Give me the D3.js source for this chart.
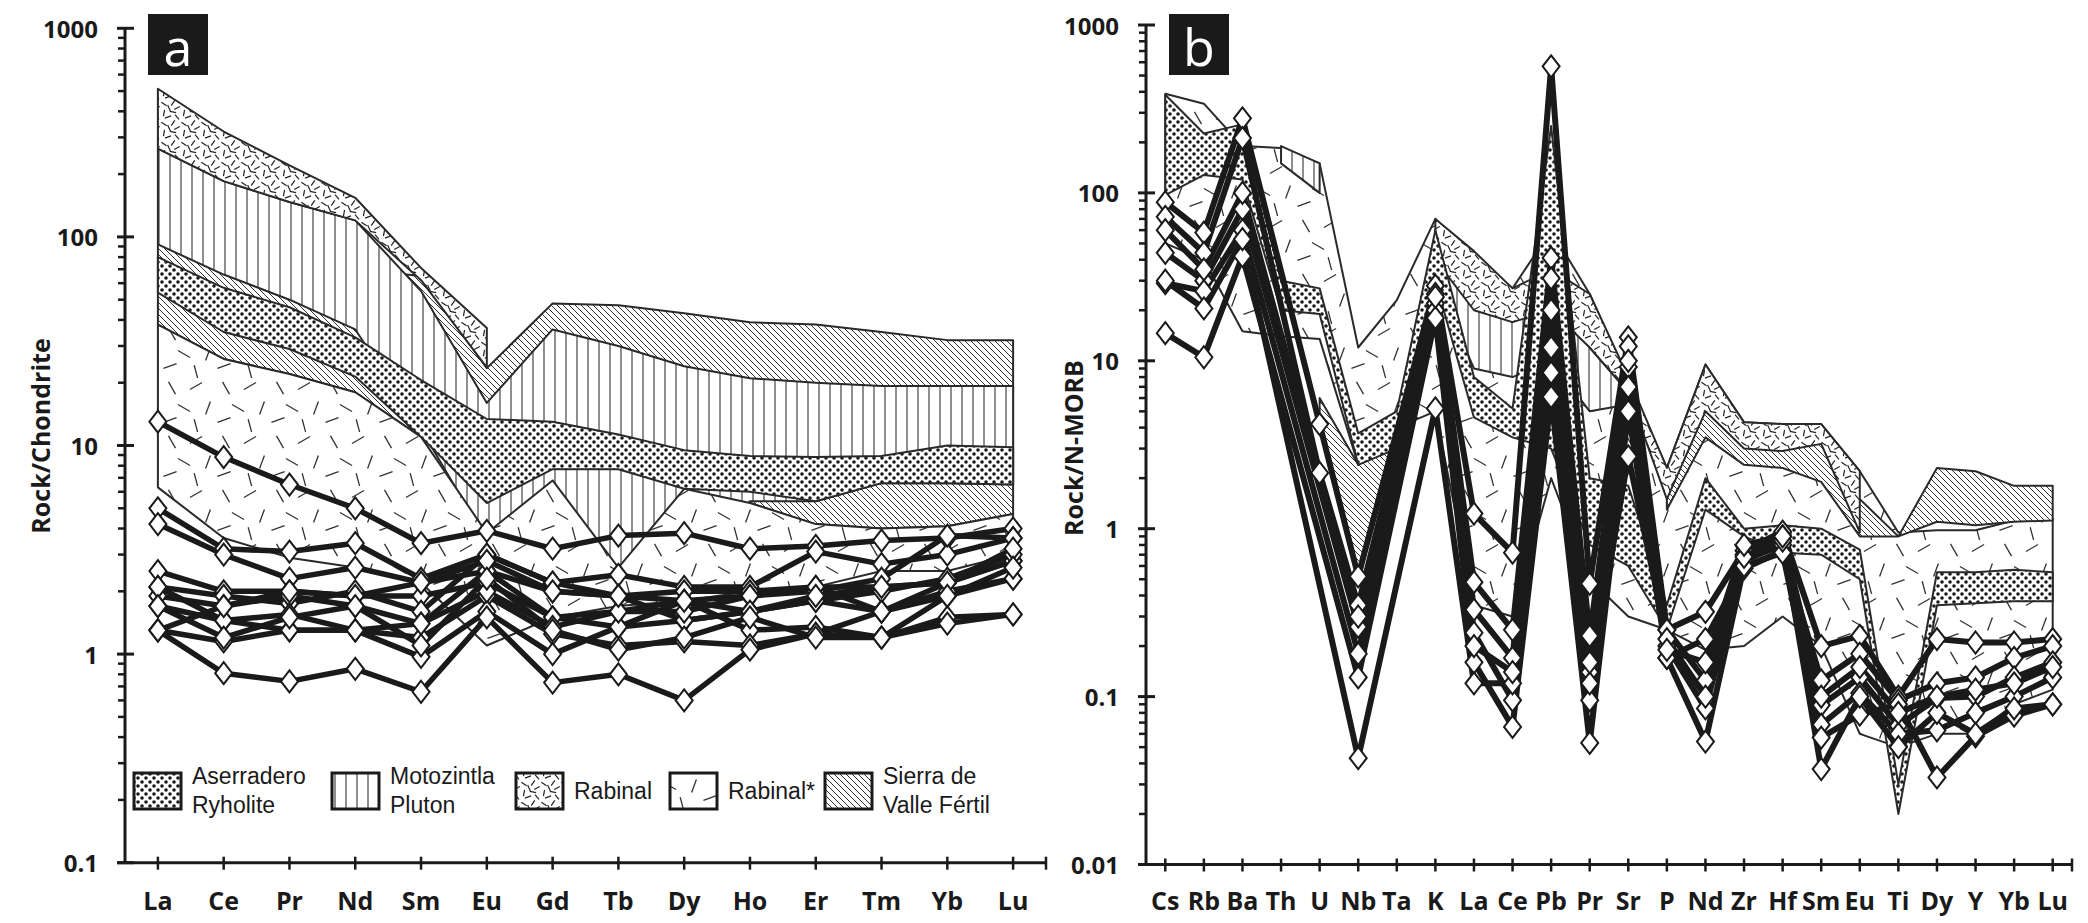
<!DOCTYPE html>
<html>
<head>
<meta charset="utf-8">
<script src="https://cdn.jsdelivr.net/npm/d3@7/dist/d3.min.js"></script>
<style>
  body { margin: 0; background: #fff; }
  svg text { font-family: "Open Sans", "DejaVu Sans", sans-serif; fill: #1a1a1a; }
  .tick-lbl { font-weight: 700; font-size: 24px; }
  .el-lbl { font-weight: 700; font-size: 25px; }
  .ax-title { font-weight: 700; font-size: 25px; }
  .legend-lbl { font-family: "Liberation Sans", Arial, sans-serif !important; font-size: 23px; }
</style>
</head>
<body>
<svg id="chart" width="2088" height="923"></svg>
<script>
// ---------- panel a : REE / chondrite ----------
const reeElements = ["La","Ce","Pr","Nd","Sm","Eu","Gd","Tb","Dy","Ho","Er","Tm","Yb","Lu"];

// sample patterns (rock / chondrite)
const reeSamples = [
  [13, 8.8, 6.5, 5.0, 3.4, 3.9, 3.2, 3.7, 3.8, 3.2, 3.3, 3.5, 3.6, 4.0],
  [5.0, 3.2, 3.1, 3.4, 2.3, 3.0, 2.2, 2.4, 2.1, 2.1, 3.1, 2.7, 3.0, 3.6],
  [4.2, 3.0, 2.3, 2.6, 2.2, 2.5, 2.0, 1.9, 2.0, 2.0, 2.1, 2.1, 2.2, 2.8],
  [2.5, 2.0, 2.0, 1.9, 1.9, 2.2, 1.5, 1.6, 1.8, 1.9, 2.0, 2.3, 3.7, 3.6],
  [2.1, 1.9, 1.75, 2.0, 1.6, 3.0, 2.2, 1.9, 1.45, 1.6, 1.8, 1.6, 1.9, 2.3],
  [1.9, 1.7, 1.9, 1.7, 1.4, 2.5, 1.5, 1.35, 1.8, 1.3, 1.35, 1.2, 1.5, 1.55],
  [1.7, 1.45, 1.55, 1.3, 1.2, 1.9, 1.25, 1.1, 1.15, 1.1, 1.25, 1.6, 2.2, 2.8],
  [1.3, 1.15, 1.3, 1.3, 0.97, 1.6, 1.0, 1.35, 1.45, 1.6, 1.8, 2.0, 2.3, 3.0],
  [1.3, 0.81, 0.74, 0.85, 0.66, 1.5, 0.73, 0.8, 0.6, 1.05, 1.25, 1.2, 1.4, 1.55],
  [2.1, 1.45, 1.3, 1.3, 1.4, 2.0, 1.35, 1.6, 1.6, 1.9, 2.1, 1.6, 2.0, 2.3],
  [1.3, 1.7, 2.0, 1.9, 2.2, 2.8, 2.0, 1.9, 1.8, 1.6, 1.9, 2.1, 2.2, 3.2],
  [1.7, 1.2, 1.5, 1.7, 1.1, 2.3, 1.3, 1.05, 1.2, 1.5, 1.2, 1.2, 1.9, 2.6]
];

// comparison fields (upper / lower envelopes, null = no data)
const reeSierraUpper = [92, 80, 75, 70, 65, 23.5, 48, 47, 43, 39, 38, 35, 32, 32];
const reeSierraLower = [38, 26, 22, 18, 11, 15, 8, 7, 6.2, 5.3, 4.2, 4.0, 4.1, 4.7];
const reeMotozintlaUpper = [265, 185, 147, 120, 55, 16, 36, 30, 24, 21, 20, 19.3, 19.3, 19.3];
const reeMotozintlaLower = [92, 66, 50, 36, 12, 3.5, 2.5, 2.5, 3, 5.4, 5.4, 6.6, 6.6, 6.5];
const reeRabinalStarUpper = [38, 26, 22, 18, 11, 3.8, 6.8, 2.6, 6.2, 5.3, 4.2, 4.0, 4.1, 4.7];
const reeRabinalStarLower = [6.3, 3.6, 2.9, 2.6, 2.2, 1.1, 1.5, 1.7, 1.8, 2.0, 2.1, 2.5, 2.5, 3.0];
const reeAserraderoUpper = [80, 57, 46, 33, 20.6, 13.4, 13, 11.3, 9.5, 8.9, 8.8, 8.9, 10, 9.8];
const reeAserraderoLower = [54, 35, 29, 21.4, 11, 5.3, 7.7, 7.7, 6.2, 6.0, 5.4, 6.6, 6.6, 6.5];
const reeRabinalUpper = [513, 320, 220, 154, 71, 36.6, null, null, null, null, null, null, null, null];
const reeRabinalLower = [265, 185, 147, 120, 62, 23.6, null, null, null, null, null, null, null, null];

// ---------- panel b : spider / N-MORB ----------
const spiderElements = ["Cs","Rb","Ba","Th","U","Nb","Ta","K","La","Ce","Pb","Pr","Sr","P","Nd","Zr","Hf","Sm","Eu","Ti","Dy","Y","Yb","Lu"];

const spiderSamples = [
  [88, 58, 278, null, 4.2, 0.52, null, 28, 1.23, 0.72, 567, 0.47, 13.8, 0.25, 0.32, 0.74, 0.96, 0.2, 0.23, 0.1, 0.22, 0.21, 0.21, 0.22],
  [72, 44, 212, null, 2.15, 0.35, null, 25, 0.48, 0.25, 41, 0.23, 12.2, 0.17, 0.22, 0.58, 0.74, 0.125, 0.18, 0.095, 0.12, 0.13, 0.17, 0.2],
  [44, 30, 80, null, null, 0.26, null, 22, 0.33, 0.17, 31, 0.14, 9.2, 0.25, 0.125, 0.7, 0.9, 0.089, 0.13, 0.067, 0.098, 0.1, 0.13, 0.16],
  [29, 26, 60, null, null, 0.18, null, 20, 0.24, 0.095, 8.5, 0.095, 7, 0.2, 0.085, 0.65, 0.8, 0.068, 0.105, 0.06, 0.063, 0.08, 0.1, 0.13],
  [14.6, 10.5, 42, null, null, 0.13, null, 18, 0.16, 0.066, 6.1, 0.053, 5, 0.17, 0.054, 0.6, 0.72, 0.057, 0.078, 0.09, 0.033, 0.058, 0.077, 0.09],
  [30, 20.5, 53, null, null, 0.043, null, 5.2, 0.12, 0.12, 12, 0.12, 2.7, 0.22, 0.1, 0.68, 0.85, 0.037, 0.1, 0.05, 0.08, 0.06, 0.085, 0.09],
  [60, 35, 100, null, null, 0.3, null, 24, 0.2, 0.14, 20, 0.16, 10, 0.19, 0.16, 0.8, 0.9, 0.1, 0.15, 0.08, 0.1, 0.11, 0.12, 0.15]
];

const spiderRabinalStarUpper = [390, 340, 190, 185, 150, 12, 23, 70, 40, 27, 60, 25, 7.5, 2.3, 9.5, 4.3, 4.2, 4.2, 2.2, 0.95, 0.98, 0.98, 1.12, 1.15];
const spiderRabinalStarLower = [50, 40, 15, 14, 13.5, 2.4, 4, 5, 0.35, 0.3, 2, 0.5, 0.3, 0.25, 0.19, 0.2, 0.3, 0.2, 0.06, 0.05, 0.06, 0.06, 0.09, 0.11];
const spiderSierraUpper = [null, null, null, null, 6, 2.4, 5, null, null, null, null, null, null, 1.8, 5.5, 3.2, 3.0, 3.5, 1.5, 0.9, 2.3, 2.2, 1.8, 1.8];
const spiderSierraLower = [null, null, null, null, 4, 0.5, 4, null, null, null, null, null, null, 1.3, 3.5, 2.4, 2.3, 1.9, 0.9, 0.9, 1.1, 1.05, 1.1, 1.12];
const spiderMotozintlaUpper = [null, null, null, 190, 150, null, null, 60, 21, 17, 30, 12, 6.5, null, null, null, null, null, null, null, null, null, null, null];
const spiderMotozintlaLower = [null, null, null, 150, 100, null, null, 30, 9, 8, 10, 5, 5.5, null, null, null, null, null, null, null, null, null, null, null];
const spiderRabinalUpper = [null, null, null, null, null, null, null, 70, 45, 27, 35, 25, 8, 2.3, 9.5, 4.3, 4.2, 4.2, 2.2, null, null, null, null, null];
const spiderRabinalLower = [null, null, null, null, null, null, null, 40, 20, 17, 20, 12, 6.5, 1.5, 5, 3, 2.9, 3.2, 0.95, null, null, null, null, null];
const spiderAserraderoUpper = [384, 226, 256, 30, 27, 3.7, 5, 60, 8, 5.2, 250, 2.0, 1.8, 0.35, 2.0, 1.0, 1.05, 1.0, 0.75, 0.03, 0.55, 0.55, 0.57, 0.55];
const spiderAserraderoLower = [97, 128, 120, 20, 19, 2.4, 3, 30, 4.6, 3.5, 3, 0.8, 0.6, 0.25, 1.3, 0.9, 0.72, 0.7, 0.5, 0.02, 0.35, 0.36, 0.37, 0.37];

const legendLabels = [["Aserradero", "Ryholite"], ["Motozintla", "Pluton"], ["Rabinal"], ["Rabinal*"], ["Sierra de", "Valle Fértil"]];
const legendPatterns = ["dots", "vert", "dense", "sparse", "diag"];

// ---------- drawing ----------
const svg = d3.select("#chart");
const defs = svg.append("defs");
const ink = "#1a1a1a";

function makePattern(id, w, h, draw) {
  const p = defs.append("pattern").attr("id", id)
    .attr("patternUnits", "userSpaceOnUse").attr("width", w).attr("height", h);
  p.append("rect").attr("width", w).attr("height", h).attr("fill", "#fff");
  draw(p);
}
makePattern("dots", 8, 8, p => {
  p.append("circle").attr("cx", 2).attr("cy", 2).attr("r", 1.8).attr("fill", ink);
  p.append("circle").attr("cx", 6).attr("cy", 6).attr("r", 1.8).attr("fill", ink);
});
makePattern("vert", 11, 10, p => {
  p.append("line").attr("x1", 5).attr("x2", 5).attr("y1", 0).attr("y2", 10)
    .attr("stroke", "#444").attr("stroke-width", 1.2);
});
makePattern("diag", 6, 6, p => {
  p.append("path").attr("d", "M-1,-1 L7,7 M-4,2 L2,8 M4,-2 L8,2")
    .attr("stroke", "#333").attr("stroke-width", 1);
});
// short dashes, many orientations (Rabinal)
const denseDashes = [[4,4,35],[13,3,125],[4,13,100],[13,12,10],[9,8,65],[17,8,150],[8,17,160],[17,17,50]];
makePattern("dense", 20, 20, p => {
  denseDashes.forEach(([x, y, a]) => {
    p.append("line").attr("x1", -3.2).attr("x2", 3.2).attr("y1", 0).attr("y2", 0)
      .attr("transform", `translate(${x},${y}) rotate(${a})`)
      .attr("stroke", "#222").attr("stroke-width", 1.2);
  });
});
// long sparse dashes (Rabinal*)
const sparseDashes = [[10,10,60],[34,8,150],[22,30,30],[46,30,110],[8,42,160],[34,48,75]];
makePattern("sparse", 54, 54, p => {
  sparseDashes.forEach(([x, y, a]) => {
    p.append("line").attr("x1", -7).attr("x2", 7).attr("y1", 0).attr("y2", 0)
      .attr("transform", `translate(${x},${y}) rotate(${a})`)
      .attr("stroke", "#333").attr("stroke-width", 1.3);
  });
});

function drawPanel(cfg) {
  const x = d3.scaleBand().domain(cfg.elements).range([cfg.x0, cfg.x1]).paddingInner(0).paddingOuter(0);
  const cx = e => x(e) + x.bandwidth() / 2;
  const y = d3.scaleLog().domain(cfg.domain).range([cfg.yBottom, cfg.yTop]);
  const g = svg.append("g");

  // fields
  cfg.fields.forEach(f => {
    const pts = cfg.elements.map((e, i) => ({ e, hi: f.upper[i], lo: f.lower[i] }));
    const area = d3.area()
      .defined(d => d.hi != null && d.lo != null)
      .x(d => cx(d.e)).y0(d => y(d.lo)).y1(d => y(d.hi));
    g.append("path").datum(pts).attr("d", area)
      .attr("fill", `url(#${f.pattern})`)
      .attr("stroke", "#2a2a2a").attr("stroke-width", 2).attr("stroke-linejoin", "round");
  });

  // sample lines
  const line = d3.line().x(d => cx(d.e)).y(d => y(d.v));
  const series = cfg.samples.map(s => cfg.elements.map((e, i) => ({ e, v: s[i] })).filter(d => d.v != null));
  g.selectAll(".smp").data(series).join("path")
    .attr("d", line).attr("fill", "none").attr("stroke", ink)
    .attr("stroke-width", cfg.lineWidth).attr("stroke-linejoin", "round");
  const diamond = "M0,-11 L8.5,0 L0,11 L-8.5,0 Z";
  series.forEach(s => {
    g.selectAll(null).data(s).join("path")
      .attr("d", diamond)
      .attr("transform", d => `translate(${cx(d.e)},${y(d.v)})`)
      .attr("fill", "#fff").attr("stroke", ink).attr("stroke-width", 2);
  });

  // y axis
  const ya = g.append("g");
  ya.append("line").attr("x1", cfg.x0).attr("x2", cfg.x0).attr("y1", y(cfg.domain[1])).attr("y2", y(cfg.domain[0]))
    .attr("stroke", ink).attr("stroke-width", 3);
  const lo = Math.log10(cfg.domain[0]), hi = Math.log10(cfg.domain[1]);
  for (let p = lo; p <= hi; p++) {
    const v = Math.pow(10, p);
    ya.append("line").attr("x1", cfg.x0 - 8).attr("x2", cfg.x0 + 9).attr("y1", y(v)).attr("y2", y(v))
      .attr("stroke", ink).attr("stroke-width", 3);
    ya.append("text").attr("class", "tick-lbl").attr("x", cfg.x0 - 27).attr("y", y(v))
      .attr("text-anchor", "end").attr("dominant-baseline", "central").text(cfg.tickLabels[p - lo]);
    if (p < hi) {
      for (let m = 2; m <= 9; m++) {
        ya.append("line").attr("x1", cfg.x0 - 7).attr("x2", cfg.x0).attr("y1", y(m * v)).attr("y2", y(m * v))
          .attr("stroke", ink).attr("stroke-width", 2.5);
      }
    }
  }
  ya.append("text").attr("class", "ax-title")
    .attr("transform", `translate(${cfg.titleX},${cfg.titleY}) rotate(-90)`)
    .attr("text-anchor", "middle").attr("dominant-baseline", "central").text(cfg.title);

  // x axis
  const xa = g.append("g");
  xa.append("line").attr("x1", cfg.x0 - 8).attr("x2", cfg.x1).attr("y1", cfg.yBottom).attr("y2", cfg.yBottom)
    .attr("stroke", ink).attr("stroke-width", 3);
  cfg.elements.forEach(e => {
    xa.append("line").attr("x1", cx(e)).attr("x2", cx(e)).attr("y1", cfg.yBottom - 6).attr("y2", cfg.yBottom + 7)
      .attr("stroke", ink).attr("stroke-width", 2.5);
    xa.append("text").attr("class", "el-lbl").attr("x", cx(e)).attr("y", 900)
      .attr("text-anchor", "middle").attr("dominant-baseline", "central").text(e);
  });
  xa.append("line").attr("x1", cfg.x1).attr("x2", cfg.x1).attr("y1", cfg.yBottom - 6).attr("y2", cfg.yBottom + 7)
    .attr("stroke", ink).attr("stroke-width", 2.5);

  // panel letter
  g.append("rect").attr("x", cfg.x0 + 23).attr("y", 14).attr("width", 60).attr("height", 61).attr("fill", ink);
  g.append("text").attr("x", cfg.x0 + 53).attr("y", 45).attr("text-anchor", "middle")
    .attr("dominant-baseline", "central").style("fill", "#fff").style("font-size", "52px").text(cfg.letter);
}

function fieldsFrom(list) { return list.map(([upper, lower, pattern]) => ({ upper, lower, pattern })); }

drawPanel({
  elements: reeElements, samples: reeSamples, domain: [0.1, 1000],
  tickLabels: ["0.1", "1", "10", "100", "1000"],
  x0: 125, x1: 1046, yTop: 28.3, yBottom: 862.7, lineWidth: 5.5,
  title: "Rock/Chondrite", titleX: 40, titleY: 436, letter: "a",
  fields: fieldsFrom([
    [reeSierraUpper, reeSierraLower, "diag"],
    [reeMotozintlaUpper, reeMotozintlaLower, "vert"],
    [reeRabinalStarUpper, reeRabinalStarLower, "sparse"],
    [reeAserraderoUpper, reeAserraderoLower, "dots"],
    [reeRabinalUpper, reeRabinalLower, "dense"]
  ])
});

drawPanel({
  elements: spiderElements, samples: spiderSamples, domain: [0.01, 1000],
  tickLabels: ["0.01", "0.1", "1", "10", "100", "1000"],
  x0: 1146, x1: 2072, yTop: 25, yBottom: 864.5, lineWidth: 6,
  title: "Rock/N-MORB", titleX: 1073, titleY: 448, letter: "b",
  fields: fieldsFrom([
    [spiderRabinalStarUpper, spiderRabinalStarLower, "sparse"],
    [spiderMotozintlaUpper, spiderMotozintlaLower, "vert"],
    [spiderSierraUpper, spiderSierraLower, "diag"],
    [spiderRabinalUpper, spiderRabinalLower, "dense"],
    [spiderAserraderoUpper, spiderAserraderoLower, "dots"]
  ])
});

// legend (panel a)
const legendX = [134, 332, 516, 670, 825];
const lg = svg.append("g");
legendLabels.forEach((lbl, i) => {
  lg.append("rect").attr("x", legendX[i]).attr("y", 773).attr("width", 47).attr("height", 36)
    .attr("fill", `url(#${legendPatterns[i]})`).attr("stroke", ink).attr("stroke-width", 3);
  const t = lg.append("text").attr("class", "legend-lbl").attr("x", legendX[i] + 58);
  if (lbl.length === 1) {
    t.attr("y", 791).attr("dominant-baseline", "central").text(lbl[0]);
  } else {
    t.attr("y", 776).attr("dominant-baseline", "central").text(lbl[0]);
    lg.append("text").attr("class", "legend-lbl").attr("x", legendX[i] + 58).attr("y", 805)
      .attr("dominant-baseline", "central").text(lbl[1]);
  }
});
</script>
</body>
</html>
